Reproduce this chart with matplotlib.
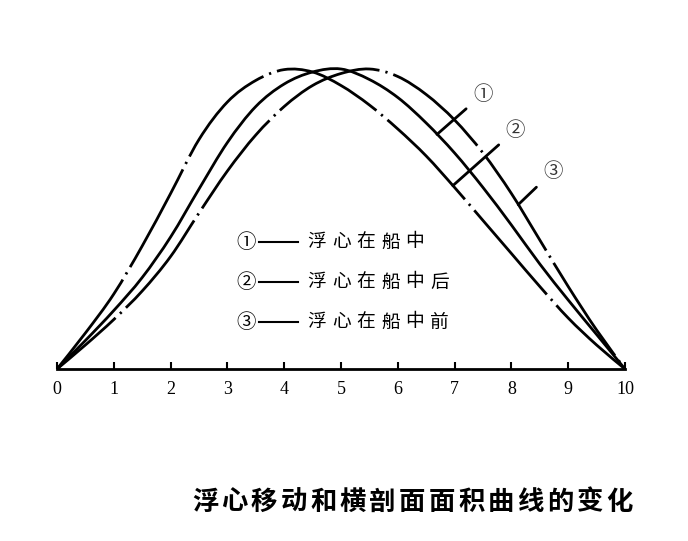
import numpy as np
import matplotlib.pyplot as plt
from matplotlib.path import Path
from matplotlib.patches import PathPatch

# 站号（半站）与三条横剖面面积曲线（以最大值为 1）
stations = np.arange(0, 10.5, 0.5)
area_mid = [0, 0.095, 0.195, 0.305, 0.44, 0.60, 0.755, 0.875, 0.95, 0.99, 1.0,
            0.965, 0.905, 0.82, 0.72, 0.605, 0.48, 0.35, 0.23, 0.115, 0]
area_aft = [0, 0.12, 0.25, 0.41, 0.585, 0.765, 0.89, 0.962, 0.998, 0.99, 0.945,
            0.88, 0.80, 0.71, 0.605, 0.495, 0.385, 0.275, 0.17, 0.08, 0]
area_fwd = [0, 0.08, 0.165, 0.26, 0.375, 0.52, 0.66, 0.78, 0.875, 0.945, 0.985,
            1.0, 0.975, 0.915, 0.83, 0.72, 0.585, 0.43, 0.275, 0.13, 0]

tick_pos = list(range(11))
tick_labels = [str(i) for i in range(11)]
marks = ['①', '②', '③']
legend_texts = ['浮心在船中', '浮心在船中后', '浮心在船中前']
# 引线落在曲线上的站号
leader_at = [6.69, 6.97, 8.12]
title = '浮心移动和横剖面面积曲线的变化'

W, H = 688, 541
CJK = ['Noto Sans CJK SC', 'DejaVu Sans']


def smooth_path(x, y):
    # Catmull-Rom 过点光顺，交给 matplotlib 画三次贝塞尔
    p = np.column_stack([x, y])
    ext = np.vstack([p[0], p, p[-1]])
    verts = [p[0]]
    codes = [Path.MOVETO]
    for i in range(len(p) - 1):
        p0, p1, p2, p3 = ext[i], ext[i + 1], ext[i + 2], ext[i + 3]
        verts += [p1 + (p2 - p0) / 6, p2 - (p3 - p1) / 6, p2]
        codes += [Path.CURVE4] * 3
    return Path(verts, codes)


fig = plt.figure(figsize=(W / 100, H / 100), dpi=100)
ax = fig.add_axes([57 / W, 172 / H, 568 / W, 315 / H])

styles = ['-', (0, (40, 2.2, 0.8, 2.2)), (12, (40, 2.2, 0.8, 2.2))]
for curve, ls in zip([area_mid, area_aft, area_fwd], styles):
    ax.add_patch(PathPatch(smooth_path(stations, curve), fill=False,
                           edgecolor='black', lw=2, linestyle=ls))

ax.set_xlim(0, 10)
ax.set_ylim(0, 1.05)
for s in ['top', 'left', 'right']:
    ax.spines[s].set_visible(False)
ax.spines['bottom'].set_linewidth(2)
ax.set_yticks([])
ax.set_xticks(tick_pos)
ax.set_xticklabels(tick_labels, family='Liberation Serif', fontsize=13)
ax.tick_params(axis='x', direction='in', length=5, width=1.5, pad=9)

# 曲线上的编号引线
offsets = [(33, 29), (45, 40), (25, 24)]
for mark, s, curve, off in zip(marks, leader_at, [area_mid, area_aft, area_fwd], offsets):
    y = np.interp(s, stations, curve)
    ax.annotate(mark, xy=(s, y), xytext=off, textcoords='offset points',
                ha='center', va='center', fontsize=14, family=CJK, color='#333333',
                arrowprops=dict(arrowstyle='-', lw=2, color='black', shrinkA=4, shrinkB=0))


def spaced_text(x, y, s, step, **kw):
    # 逐字排开，模拟原图的字距
    for i, ch in enumerate(s):
        fig.text((x + i * step) / W, 1 - y / H, ch, ha='center', va='center', **kw)


# 图内说明
for i, (mark, txt) in enumerate(zip(marks, legend_texts)):
    yy = 242 + i * 40
    fig.text(246 / W, 1 - yy / H, mark, ha='center', va='center', fontsize=14, family=CJK)
    fig.add_artist(plt.Line2D([259 / W, 298 / W], [1 - yy / H, 1 - yy / H],
                              color='black', lw=1.5))
    spaced_text(317, yy, txt, 24.5, fontsize=13.5, family=CJK)

spaced_text(205, 502, title, 29.6, fontsize=19, family=CJK, fontweight='bold')

fig.savefig('out.png', dpi=100)
